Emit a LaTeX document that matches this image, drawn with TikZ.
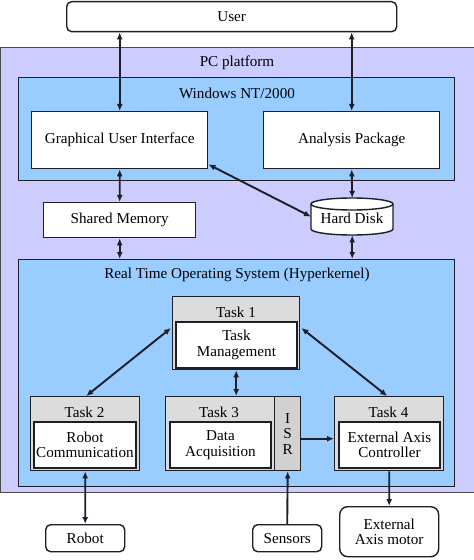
\documentclass[tikz,border=0pt]{standalone}
\usepackage{fontspec}
\setmainfont{Liberation Serif}
\usetikzlibrary{arrows.meta,calc}
\definecolor{lav}{HTML}{CCCCFF}
\definecolor{lblue}{HTML}{99CCFF}
\definecolor{hdr}{HTML}{DCDCDC}
\definecolor{edge}{HTML}{1E1E28}
\begin{document}
\begin{tikzpicture}[x=1bp,y=-1bp,
  every node/.style={font=\fontsize{15.2}{16.5}\selectfont, inner sep=0pt, align=center},
  box/.style={draw=edge, line width=1.4bp, anchor=north west},
  inbox/.style={draw=edge, line width=1.9bp, fill=white, anchor=north west},
  ext/.style={box, fill=white, rounded corners=5bp},
  conn/.style={line width=1.9bp, draw=edge, {Latex[length=7bp,width=6bp]}-{Latex[length=7bp,width=6bp]}},
  conn1/.style={line width=1.9bp, draw=edge, -{Latex[length=7bp,width=6bp]}}]
\useasboundingbox (0,0) rectangle (474,560);
\fill[white] (0,0) rectangle (474,560);
% external
\node[ext, minimum width=330bp, minimum height=30bp] (user) at (66,1) {User};
% PC platform
\node[box, fill=lav, draw=black!70, minimum width=474bp, minimum height=445bp] (pc) at (0,47) {};
\node (pclab) at (237,63) {PC platform};
\node[box, fill=lblue, minimum width=436bp, minimum height=103bp] (win) at (18,77) {};
\node (winlab) at (237,93) {Windows NT/2000};
\node[box, fill=white, minimum width=176bp, minimum height=57bp] (gui) at (31,111) {Graphical User Interface};
\node[box, fill=white, minimum width=176bp, minimum height=57bp] (an) at (263,111) {Analysis Package};
\node[box, fill=white, minimum width=152bp, minimum height=35bp] (sm) at (43,202) {Shared Memory};
% hard disk cylinder
\filldraw[fill=white, draw=edge, line width=1.4bp] (311,204) -- (311,229) arc[start angle=180, end angle=0, x radius=41, y radius=6] -- (393,204) arc[start angle=0, end angle=-180, x radius=41, y radius=6] -- cycle;
\draw[edge, line width=1.4bp] (311,204) arc[start angle=180, end angle=0, x radius=41, y radius=6];
\node[anchor=north west, minimum width=82bp, minimum height=37bp] (hd) at (311,198) {};
\node (hdlab) at (352,218.5) {Hard Disk};
% RTOS
\node[box, fill=lblue, minimum width=436bp, minimum height=227bp] (rtos) at (18,259) {};
\node (rtlab) at (237,275) {Real Time Operating System (Hyperkernel)};
% tasks
\node[box, fill=hdr, minimum width=127bp, minimum height=73bp] (t1) at (172,296) {};
\node (t1lab) at (236,312) {Task 1};
\node[inbox, minimum width=121bp, minimum height=46bp] (t1in) at (175,321) {Task\\[-1bp]Management};
\node[box, fill=hdr, minimum width=109bp, minimum height=74bp] (t2) at (30,396) {};
\node (t2lab) at (84.5,412) {Task 2};
\node[inbox, minimum width=102bp, minimum height=46bp] (t2in) at (33,421) {Robot\\[-1bp]Communication};
\node[box, fill=hdr, minimum width=109bp, minimum height=74bp] (t3) at (165,396) {};
\node (t3lab) at (219,412) {Task 3};
\node[inbox, minimum width=101bp, minimum height=46bp] (t3in) at (169,421) {Data\\[-1bp]Acquisition};
\node[box, fill=hdr!95!black, minimum width=26bp, minimum height=74bp] (isr) at (274,396) {I\\[-1bp]S\\[-1bp]R};
\node[box, fill=hdr, minimum width=109bp, minimum height=74bp] (t4) at (334,396) {};
\node (t4lab) at (388.5,412) {Task 4};
\node[inbox, minimum width=101bp, minimum height=46bp] (t4in) at (338,421) {External Axis\\[-1bp]Controller};
% externals bottom
\node[ext, minimum width=79bp, minimum height=27bp] (robot) at (45,524) {Robot};
\node[ext, minimum width=69bp, minimum height=27bp] (sens) at (252,524) {Sensors};
\node[ext, rounded corners=8bp, minimum width=99bp, minimum height=50bp] (motor) at (339,506) {External\\[-1bp]Axis motor};
% connectors
\draw[conn] (gui.north |- user.south) -- (gui.north);
\draw[conn] (an.north |- user.south) -- (an.north);
\draw[conn] (gui.south) -- (sm.north);
\draw[conn] (an.south) -- (hd.north);
\draw[conn] ($(gui.south east)+(0,-5)$) -- (hd.west);
\draw[conn] (sm.south) -- (sm.south |- rtos.north);
\draw[conn] (hd.south) -- (hd.south |- rtos.north);
\draw[conn] ($(t1.north west)+(-1,32)$) -- ($(t2.north)+(1,0)$);
\draw[conn] ($(t1.north east)+(1,32)$) -- ($(t4.north)+(-2,0)$);
\draw[conn] (t1.south) -- (t1.south |- t3.north);
\draw[conn1] ($(isr.east)+(0,5)$) -- ($(t4.west)+(0,5)$);
\draw[conn] (t2.south) -- (robot.north);
\draw[conn1] (sens.north) -- (isr.south);
\draw[conn1] (t4.south) -- (motor.north);
\end{tikzpicture}
\end{document}
